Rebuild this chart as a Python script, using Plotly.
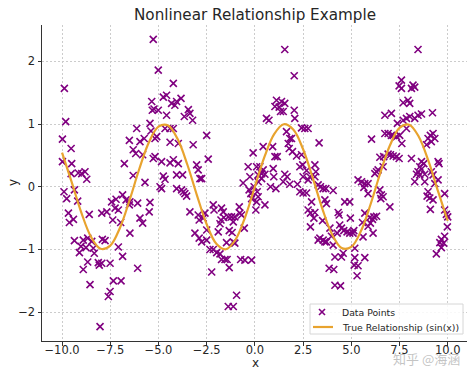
import plotly.graph_objects as go

# Scatter data
x_pts = [
    -9.88, -9.81, -9.98, -9.53, -9.98, -9.50, -9.53, -9.16, -8.98, -8.81, -8.72, -9.90, -9.36, -9.76, -9.19,
    -9.67, -8.59, -9.41, -9.62, -7.94, -9.36, -8.90, -8.67, -8.46, -9.02, -8.76, -8.38, -7.91, -9.10, -8.33,
    -8.12, -8.07, -8.90, -8.67, -8.55, -8.03,
    -5.27, -5.35, -5.32, -6.13, -5.44, -6.51, -5.96, -5.74, -6.31, -6.18, -5.82, -5.39, -5.27, -6.77, -6.31,
    -5.70, -6.86, -6.68, -6.48, -7.20, -7.43, -7.68, -7.25, -7.08, -7.37, -6.96, -6.51, -6.08, -5.44, -5.96,
    -5.82, -6.48, -5.48, -7.77, -7.94, -7.51, -7.08, -6.86, -7.34, -6.94, -7.51, -7.60, -6.08,
    -5.01, -4.23, -5.01, -5.23, -4.75, -4.58, -4.32, -4.06, -3.83, -4.15, -4.58, -3.45, -3.37, -3.23, -3.66,
    -4.40, -4.23, -4.66, -5.18, -5.09, -4.40, -3.97, -3.20, -5.18, -4.84, -4.40, -4.23, -3.97, -3.02, -2.94,
    -2.85, -4.06, -3.75, -4.75, -4.66, -4.92, -4.84, -4.06, -3.80, -3.71, -3.63, -3.54, -3.37, -2.94, -2.89,
    -2.68, -3.11, -2.89, -2.76,
    -2.50, -2.42, -2.76, -2.16, -2.12, -1.73, -1.64, -1.76, -1.81, -1.90, -2.59, -2.50, -2.50, -1.61, -1.38,
    -1.21, -1.04, -1.12, -0.78, -0.69, -0.55, -1.33, -1.18, -1.47, -1.12, -1.04, -2.33, -2.16, -1.98, -1.81,
    -1.73, -1.55, -1.44, -1.33, -0.74, -0.52, -0.17, -2.24, -0.95, -1.38, -1.12, -0.61, -0.30, -0.35, -0.26,
    -0.09, -0.17, -0.04, -0.81,
    1.55, 2.04, 1.12, 1.38, 1.55, 1.04, 1.26, 1.33, 1.47, 0.60, 0.73, 2.07, 2.04, 2.42, 1.64,
    1.81, 1.90, 1.73, 1.78, 1.95, 2.16, 0.43, 0.92, 1.04, 1.16, 2.42, 0.09, 0.26, 0.43, 0.35,
    0.17, 0.35, 0.17, 0.52, 0.95, 0.98, 0.81, 1.09, 1.55, 1.67, 1.47, 1.81, 2.21, 2.33, 2.48,
    2.50, 2.33, 2.50, -0.21, 0.12, 0.17, 0.09, 0.05, 0.52,
    2.59, 2.76, 3.33, 2.68, 2.85, 2.76, 3.11, 3.16, 3.11, 2.68, 3.28, 3.40, 3.54, 3.68, 4.06,
    2.94, 3.63, 3.71, 2.76, 2.88, 3.11, 3.06, 2.88, 3.51, 4.66, 4.92, 4.32, 4.37, 4.95, 3.89,
    3.97, 4.40, 4.49, 4.61, 4.78, 4.92, 5.09, 4.27, 3.37, 3.54, 3.63, 3.71, 3.28, 4.06, 4.15,
    4.49, 4.58, 5.15, 3.85, 4.09, 4.15, 4.44,
    7.60, 7.48, 7.60, 7.69, 6.74, 7.08, 6.74, 6.91, 7.08, 7.17, 7.34, 7.39, 7.51, 7.62, 6.05,
    6.48, 6.68, 6.91, 7.03, 7.17, 7.34, 7.48, 6.65, 6.31, 6.22, 6.39, 5.35, 5.53, 5.70, 5.87,
    5.65, 5.87, 6.48, 6.56, 6.65, 6.53, 7.00, 5.70, 5.96, 6.17, 6.31, 6.10, 5.99, 5.87, 6.13,
    5.58, 5.13, 5.61, 5.18, 5.18, 5.70, 5.35, 5.30,
    8.46, 8.20, 8.29, 8.12, 7.94, 8.03, 7.86, 8.03, 8.29, 8.46, 8.64, 9.21, 7.69, 7.86, 8.98,
    9.10, 9.24, 9.33, 8.90, 9.15, 8.12, 8.64, 8.76, 8.55, 8.64, 8.46, 8.38, 8.55, 8.81, 8.29,
    8.81, 9.15, 9.50, 9.55, 9.24, 9.33, 9.50, 8.98, 8.93, 9.07, 9.24, 9.10, 9.84, 9.84, 9.93,
    10.00, 9.98, 9.84, 9.67, 9.59, 9.79, 9.67, 9.41,
]
y_pts = [
    1.57, 1.04, 0.76, 0.61, 0.40, 0.37, 0.21, 0.22, 0.21, 0.24, 0.12, -0.08, -0.05, -0.19, -0.23,
    -0.42, -0.44, -0.52, -0.57, -0.42, -0.86, -0.85, -0.82, -0.87, -0.95, -0.97, -0.98, -0.84, -1.05, -1.06,
    -1.21, -1.25, -1.32, -1.20, -1.56, -2.23,
    2.35, 1.36, 1.22, 0.93, 1.01, 0.74, 0.72, 0.77, 0.59, 0.53, 0.51, 0.89, 0.45, 0.37, 0.18,
    0.07, -0.13, -0.21, -0.24, -0.20, -0.24, -0.40, -0.34, -0.37, -0.53, -0.57, -0.29, -0.26, -0.25, -0.50,
    -0.58, -0.74, -0.40, -0.86, -1.22, -1.22, -0.96, -1.11, -1.50, -1.50, -1.67, -1.75, -1.30,
    1.86, 1.65, 1.22, 1.24, 1.43, 1.46, 1.33, 1.36, 1.41, 1.30, 1.14, 1.23, 1.17, 1.06, 1.12,
    0.93, 0.93, 0.93, 0.77, 0.80, 0.71, 0.69, 0.67, 0.48, 0.40, 0.38, 0.43, 0.37, 0.35, 0.27,
    0.13, 0.19, 0.19, 0.17, 0.12, 0.00, -0.03, -0.03, -0.05, -0.08, -0.11, -0.15, -0.40, -0.45, -0.53,
    -0.50, -0.74, -0.82, -0.88,
    0.82, 0.44, 0.13, -0.29, -0.37, -0.34, -0.40, -0.53, -0.59, -0.72, -0.42, -0.69, -0.85, -0.49, -0.48,
    -0.48, -0.48, -0.56, -0.42, -0.45, -0.66, -0.70, -0.73, -0.89, -0.88, -0.90, -1.00, -1.00, -1.05, -1.07,
    -1.16, -1.16, -1.16, -1.29, -1.16, -1.17, -1.17, -1.36, -1.73, -1.91, -1.91, 0.06, -0.05, 0.32, 0.16,
    0.54, -0.19, 0.00, -0.32,
    2.19, 1.77, 1.38, 1.36, 1.33, 1.28, 1.27, 1.20, 1.20, 1.09, 1.06, 1.09, 1.22, 0.94, 0.88,
    0.77, 0.77, 0.69, 0.61, 0.56, 0.49, 0.64, 0.64, 0.48, 0.48, 0.51, 0.32, 0.32, 0.27, 0.21,
    0.19, 0.13, 0.08, 0.20, 0.29, 0.16, 0.00, -0.03, 0.20, 0.16, 0.08, 0.04, 0.04, 0.32, 0.35,
    0.16, -0.08, -0.10, -0.11, -0.08, -0.16, -0.24, -0.37, -0.29,
    0.93, 0.93, 0.70, 0.26, 0.16, 0.11, 0.35, 0.24, 0.16, -0.10, 0.03, 0.00, -0.03, -0.03, -0.06,
    -0.24, -0.21, -0.27, -0.37, -0.42, -0.41, -0.50, -0.64, -0.54, -0.24, -0.24, -0.41, -0.45, -0.50, -0.66,
    -0.79, -0.61, -0.66, -0.70, -0.72, -0.74, -0.74, -0.74, -0.82, -0.85, -0.88, -0.88, -0.85, -0.93, -1.12,
    -1.12, -1.06, -1.25, -1.30, -1.32, -1.57, -1.58,
    1.70, 1.61, 1.57, 1.34, 1.14, 1.17, 0.85, 0.85, 0.82, 0.82, 0.80, 1.01, 0.82, 0.69, 0.76,
    0.47, 0.48, 0.52, 0.51, 0.49, 0.48, 0.45, 0.32, 0.24, 0.21, 0.27, 0.11, 0.08, 0.05, 0.05,
    -0.01, -0.11, -0.05, -0.13, -0.16, -0.19, -0.32, -0.42, -0.49, -0.48, -0.47, -0.52, -0.58, -0.63, -0.74,
    -0.57, -0.70, -0.80, -0.98, -1.13, -1.13, -1.26, -1.42,
    2.19, 1.62, 1.59, 1.57, 1.38, 1.33, 1.09, 1.12, 1.09, 1.14, 1.16, 1.18, 1.06, 0.93, 0.77,
    0.82, 0.85, 0.77, 0.67, 0.72, 0.45, 0.40, 0.37, 0.32, 0.28, 0.24, 0.20, 0.19, 0.20, 0.08,
    0.08, 0.24, 0.40, 0.37, 0.19, 0.05, 0.11, -0.08, -0.15, -0.18, -0.21, -0.36, -0.11, -0.37, -0.44,
    -0.48, -0.64, -0.79, -0.84, -0.89, -0.90, -0.97, -1.07,
]

# True relationship curve (sin(x))
curve_x = [-10.0, -9.5, -9.0, -8.5, -8.0, -7.5, -7.0, -6.5, -6.0, -5.5, -5.0, -4.5, -4.0, -3.5,
           -3.0, -2.5, -2.0, -1.5, -1.0, -0.5, 0.0, 0.5, 1.0, 1.5, 2.0, 2.5, 3.0, 3.5, 4.0,
           4.5, 5.0, 5.5, 6.0, 6.5, 7.0, 7.5, 8.0, 8.5, 9.0, 9.5, 10.0]
curve_y = [0.544, 0.075, -0.412, -0.798, -0.989, -0.938, -0.657, -0.215, 0.279, 0.706, 0.959,
           0.978, 0.757, 0.351, -0.141, -0.598, -0.909, -0.997, -0.841, -0.479, 0.0, 0.479,
           0.841, 0.997, 0.909, 0.598, 0.141, -0.351, -0.757, -0.978, -0.959, -0.706, -0.279,
           0.215, 0.657, 0.938, 0.989, 0.798, 0.412, -0.075, -0.544]

x_ticks = [-10.0, -7.5, -5.0, -2.5, 0.0, 2.5, 5.0, 7.5, 10.0]
x_tick_labels = ["−10.0", "−7.5", "−5.0", "−2.5", "0.0", "2.5", "5.0", "7.5", "10.0"]
y_ticks = [-2, -1, 0, 1, 2]
y_tick_labels = ["−2", "−1", "0", "1", "2"]
legend_labels = ["Data Points", "True Relationship (sin(x))"]

FONT = "DejaVu Sans"
TXT = "#262626"
PURPLE = "purple"
ORANGE = "#E8A32E"

W, H = 474, 377
L, R, T, B = 42, 7, 25, 36
PW, PH = W - L - R, H - T - B


def px_x(p):  # screen pixel -> paper x
    return (p - L) / PW


def px_y(p):  # screen pixel -> paper y
    return (H - B - p) / PH


fig = go.Figure()
fig.add_trace(go.Scatter(
    x=x_pts, y=y_pts, mode="markers", name=legend_labels[0],
    marker=dict(symbol="x-thin", size=7, color=PURPLE,
                line=dict(width=1.6, color=PURPLE)),
    showlegend=False,
))
fig.add_trace(go.Scatter(
    x=curve_x, y=curve_y, mode="lines", name=legend_labels[1],
    line=dict(color=ORANGE, width=2.2, shape="spline"),
    showlegend=False,
))

axis_common = dict(
    showline=True, linecolor="#333333", linewidth=1,
    ticks="outside", ticklen=3.5, tickwidth=1, tickcolor="#333333",
    showgrid=True, gridcolor="#cccccc", griddash="2px,2px", gridwidth=0.8,
    zeroline=False, mirror=False, automargin=False,
    tickfont=dict(family=FONT, size=11.5, color=TXT),
)

fig.update_layout(
    width=W, height=H,
    margin=dict(l=L, r=R, t=T, b=B),
    paper_bgcolor="white", plot_bgcolor="white",
    font=dict(family=FONT, color=TXT),
    title=dict(text="Nonlinear Relationship Example", x=px_x(255), xref="paper",
               xanchor="center", y=1 - 15 / H, yanchor="middle",
               font=dict(family=FONT, size=15.2, color=TXT)),
    xaxis=dict(range=[-11.04, 11.0], tickvals=x_ticks, ticktext=x_tick_labels,
               ticklabelstandoff=-5, **axis_common),
    yaxis=dict(range=[-2.46, 2.58], tickvals=y_ticks, ticktext=y_tick_labels, **axis_common),
    showlegend=False,
)

# axis labels
fig.add_annotation(text="x", xref="paper", yref="paper", x=px_x(255), y=px_y(363),
                   xanchor="center", yanchor="middle", showarrow=False,
                   font=dict(family=FONT, size=12, color=TXT))
fig.add_annotation(text="y", xref="paper", yref="paper", x=px_x(13), y=px_y(183),
                   xanchor="center", yanchor="middle", showarrow=False, textangle=-90,
                   font=dict(family=FONT, size=12, color=TXT))

# legend (drawn box)
lx0, lx1, ly0, ly1 = 310, 463, 304, 334
fig.add_shape(type="rect", xref="paper", yref="paper",
              x0=px_x(lx0), x1=px_x(lx1), y0=px_y(ly1), y1=px_y(ly0),
              line=dict(color="#d6d6d6", width=1), fillcolor="rgba(255,255,255,0.85)", layer="above")
mx, my, ms = 322, 312, 3
fig.add_shape(type="line", xref="paper", yref="paper",
              x0=px_x(mx - ms), y0=px_y(my - ms), x1=px_x(mx + ms), y1=px_y(my + ms),
              line=dict(color=PURPLE, width=1.6), layer="above")
fig.add_shape(type="line", xref="paper", yref="paper",
              x0=px_x(mx - ms), y0=px_y(my + ms), x1=px_x(mx + ms), y1=px_y(my - ms),
              line=dict(color=PURPLE, width=1.6), layer="above")
fig.add_shape(type="line", xref="paper", yref="paper",
              x0=px_x(313), y0=px_y(327), x1=px_x(333), y1=px_y(327),
              line=dict(color=ORANGE, width=2.2), layer="above")
for txt, yy in zip(legend_labels, [312, 327]):
    fig.add_annotation(text=txt, xref="paper", yref="paper", x=px_x(340), y=px_y(yy),
                       xanchor="left", yanchor="middle", showarrow=False,
                       font=dict(family=FONT, size=9.3, color=TXT))

fig.add_annotation(
    text="知乎 @海涵", xref="paper", yref="paper",
    x=px_x(462), y=px_y(358), xanchor="right", yanchor="middle",
    showarrow=False,
    font=dict(family="Noto Sans CJK SC", size=13, color="rgba(170,170,170,0.7)"),
)

# remove the page's default body margin so the figure sits at the window's top-left corner
fig.write_html("out.html", config={"displayModeBar": False},
               post_script="document.body.style.margin='0';")
